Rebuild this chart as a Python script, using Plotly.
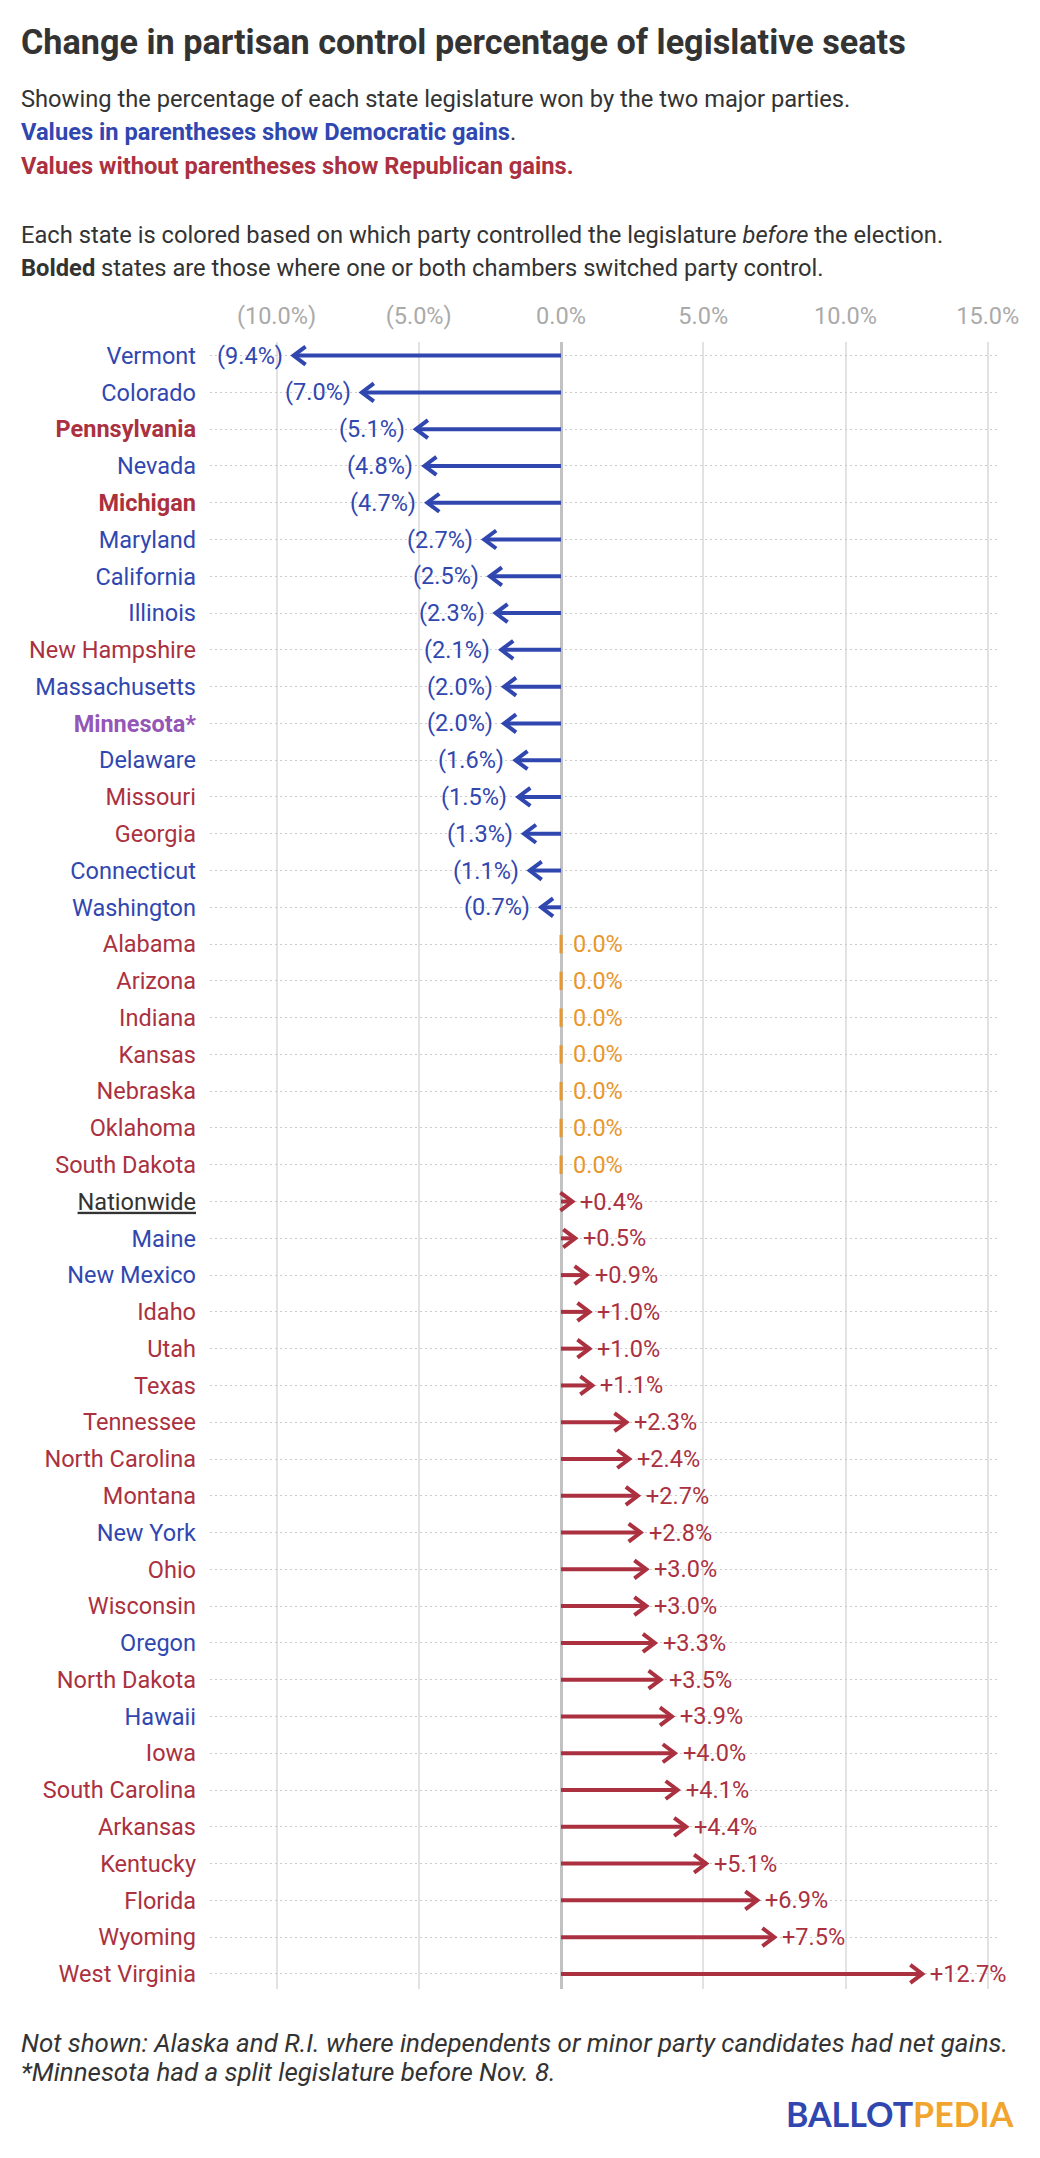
import plotly.graph_objects as go

# ---------------- data ----------------
states = ["Vermont", "Colorado", "Pennsylvania", "Nevada", "Michigan", "Maryland", "California",
          "Illinois", "New Hampshire", "Massachusetts", "Minnesota*", "Delaware", "Missouri",
          "Georgia", "Connecticut", "Washington", "Alabama", "Arizona", "Indiana", "Kansas",
          "Nebraska", "Oklahoma", "South Dakota", "Nationwide", "Maine", "New Mexico", "Idaho",
          "Utah", "Texas", "Tennessee", "North Carolina", "Montana", "New York", "Ohio",
          "Wisconsin", "Oregon", "North Dakota", "Hawaii", "Iowa", "South Carolina", "Arkansas",
          "Kentucky", "Florida", "Wyoming", "West Virginia"]
changes = [-9.4, -7.0, -5.1, -4.8, -4.7, -2.7, -2.5, -2.3, -2.1, -2.0, -2.0, -1.6, -1.5,
           -1.3, -1.1, -0.7, 0.0, 0.0, 0.0, 0.0, 0.0, 0.0, 0.0, 0.4, 0.5, 0.9, 1.0,
           1.0, 1.1, 2.3, 2.4, 2.7, 2.8, 3.0, 3.0, 3.3, 3.5, 3.9, 4.0, 4.1, 4.4,
           5.1, 6.9, 7.5, 12.7]
# party controlling legislature before the election: D, R, S (split), N (nationwide)
prior_party = ["D", "D", "R", "D", "R", "D", "D", "D", "R", "D", "S", "D", "R",
               "R", "D", "D", "R", "R", "R", "R", "R", "R", "R", "N", "D", "D", "R",
               "R", "R", "R", "R", "R", "D", "R", "R", "D", "R", "D", "R", "R", "R",
               "R", "R", "R", "R"]
switched = ["Pennsylvania", "Michigan", "Minnesota*"]
x_tick_vals = [-10, -5, 0, 5, 10, 15]
x_tick_text = ["(10.0%)", "(5.0%)", "0.0%", "5.0%", "10.0%", "15.0%"]

# ---------------- styles ----------------
BLUE = "#3147b0"
RED = "#ab3140"
ORANGE = "#e8972c"
PURPLE = "#9457b8"
DARK = "#333333"
FONT = "Roboto"
party_color = {"D": BLUE, "R": RED, "S": PURPLE, "N": DARK}

OFF = 8  # page body margin
W, H = 1040, 2158
ML = 210 - OFF
MR = W - (1000 - OFF)
MT = 342 - OFF
MB = H - (1989 - OFF)
n = len(states)
PX_PER_PCT = 28.45
x0_px = 561 - 210
x_lo = -x0_px / PX_PER_PCT
x_hi = x_lo + (W - ML - MR) / PX_PER_PCT
y_range = [n - 1 + 0.41, -0.37]
px_per_row = (H - MT - MB) / (y_range[0] - y_range[1])

head_dx = 12 / PX_PER_PCT
head_dy = 9 / px_per_row

fig = go.Figure()

def arrow_trace(sign, color):
    xs, ys = [], []
    for i, v in enumerate(changes):
        if (v < 0 and sign < 0) or (v > 0 and sign > 0):
            xs += [0, v, None, v - sign * head_dx, v, v - sign * head_dx, None]
            ys += [i, i, None, i - head_dy, i, i + head_dy, None]
    fig.add_trace(go.Scatter(x=xs, y=ys, mode="lines",
                             line=dict(color=color, width=4),
                             hoverinfo="skip", showlegend=False))

arrow_trace(-1, BLUE)
arrow_trace(1, RED)

# zero ticks
zx, zy = [], []
for i, v in enumerate(changes):
    if v == 0:
        zx += [v, v, None]
        zy += [i - 0.25, i + 0.25, None]
fig.add_trace(go.Scatter(x=zx, y=zy, mode="lines", line=dict(color=ORANGE, width=3),
                         hoverinfo="skip", showlegend=False))

LBL = 23.5
annotations = []
for i, v in enumerate(changes):
    if v < 0:
        annotations.append(dict(x=v, y=i, text=f"({abs(v):.1f}%)", xanchor="right",
                                xshift=-9, showarrow=False,
                                font=dict(family=FONT, size=LBL, color=BLUE)))
    elif v > 0:
        annotations.append(dict(x=v, y=i, text=f"+{v:.1f}%", xanchor="left",
                                xshift=6, showarrow=False,
                                font=dict(family=FONT, size=LBL, color=RED)))
    else:
        annotations.append(dict(x=v, y=i, text=f"{v:.1f}%", xanchor="left",
                                xshift=10, showarrow=False,
                                font=dict(family=FONT, size=LBL, color=ORANGE)))

# y tick labels
ticktext = []
for s, p in zip(states, prior_party):
    c = party_color[p]
    t = s
    if s in switched:
        t = f"<b>{t}</b>"
    if p == "N":
        t = f"<span style='text-decoration:underline'>{t}</span>"
    ticktext.append(f"<span style='color:{c}'>{t}</span>")

def py(ypage):
    return (H - MB - (ypage - OFF)) / (H - MT - MB)

def px(xpage):
    return ((xpage - OFF) - ML) / (W - ML - MR)

def note(text, xpage, ypage, size, color=DARK, weight=None, xanchor="left", style=None):
    f = dict(family=FONT, size=size, color=color)
    if weight:
        f["weight"] = weight
    if style:
        f["style"] = style
    annotations.append(dict(text=text, x=px(xpage), y=py(ypage), xref="paper", yref="paper",
                            xanchor=xanchor, yanchor="middle", showarrow=False, font=f))

TX = 19
SUB = 23.7
note("Change in partisan control percentage of legislative seats", TX, 42, 34.2, weight=700)
note("Showing the percentage of each state legislature won by the two major parties.", TX, 99, SUB)
note(f"<span style='color:{BLUE}'><b>Values in parentheses show Democratic gains</b></span>.", TX, 132, SUB)
note(f"<span style='color:{RED}'><b>Values without parentheses show Republican gains.</b></span>", TX, 166, SUB)
note("Each state is colored based on which party controlled the legislature <i>before</i> the election.", TX, 235, SUB)
note("<b>Bolded</b> states are those where one or both chambers switched party control.", TX, 268, SUB)
note("Not shown: Alaska and R.I. where independents or minor party candidates had net gains.", TX, 2043, 25.9, style="italic")
note("*Minnesota had a split legislature before Nov. 8.", TX, 2072, 25.9, style="italic")
annotations.append(dict(
    text=f"<span style='color:{BLUE}'>BALLOT</span><span style='color:#f2a52e'>PEDIA</span>",
    x=px(1016), y=py(2113), xref="paper", yref="paper", xanchor="right", yanchor="middle",
    showarrow=False, font=dict(family="Lato", size=34, weight=700)))

fig.update_layout(
    width=W, height=H,
    margin=dict(l=ML, r=MR, t=MT, b=MB),
    paper_bgcolor="white", plot_bgcolor="white",
    annotations=annotations,
    xaxis=dict(range=[x_lo, x_hi], side="top", tickvals=x_tick_vals, ticktext=x_tick_text,
               showgrid=True, gridcolor="#e2e2e2", gridwidth=2,
               zeroline=True, zerolinecolor="#c2c2c2", zerolinewidth=2.5,
               tickfont=dict(family=FONT, size=LBL, color="#aaaaaa"),
               ticks="", showline=False, fixedrange=True, ticklabelstandoff=12),
    yaxis=dict(range=y_range, tickvals=list(range(n)), ticktext=ticktext,
               showgrid=True, gridcolor="#cccccc", gridwidth=1.2, griddash="2px,3px",
               zeroline=False, ticks="", showline=False,
               tickfont=dict(family=FONT, size=LBL), ticklabelstandoff=13, fixedrange=True),
    font=dict(family=FONT),
)

fig.write_html("out.html")
